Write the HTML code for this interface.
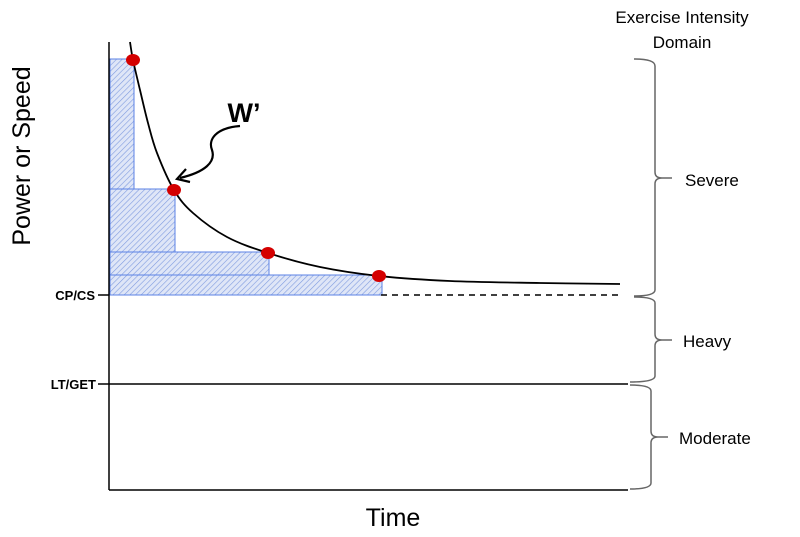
<!DOCTYPE html>
<html><head><meta charset="utf-8"><style>
body{margin:0;background:#fff}
svg{display:block;font-family:"Liberation Sans",Arial,sans-serif}
</style></head><body>
<svg id="chart" width="800" height="537" viewBox="0 0 800 537">
<defs>
<pattern id="hatch" patternUnits="userSpaceOnUse" width="4" height="4" patternTransform="rotate(45)">
<rect width="4" height="4" fill="#dfe6f7"/>
<line x1="0" y1="0" x2="0" y2="4" stroke="#7f9be0" stroke-width="1.2"/>
</pattern>
</defs>
<g id="rects"></g>
<line x1="109" y1="42" x2="109" y2="490" stroke="#000" stroke-width="1.5"/>
<line x1="109" y1="490" x2="628" y2="490" stroke="#000" stroke-width="1.5"/>
<line x1="98" y1="295" x2="109" y2="295" stroke="#000" stroke-width="1.5"/>
<line x1="381" y1="295" x2="620" y2="295" stroke="#000" stroke-width="1.5" stroke-dasharray="6,5"/>
<line x1="98" y1="384" x2="628" y2="384" stroke="#000" stroke-width="1.5"/>
<path id="curve" fill="none" stroke="#000" stroke-width="1.8"/>
<g id="points"></g>
<text x="95" y="300" text-anchor="end" font-size="13" font-weight="bold">CP/CS</text>
<text x="96" y="389" text-anchor="end" font-size="13" font-weight="bold">LT/GET</text>
<text transform="translate(30,156) rotate(-90)" text-anchor="middle" font-size="25">Power or Speed</text>
<text x="393" y="526" text-anchor="middle" font-size="25">Time</text>
<text x="244" y="122" text-anchor="middle" font-size="27" font-weight="bold">W’</text>
<path d="M240,126 C215,128 208,140 212,150 C216,162 205,172 180,178" fill="none" stroke="#000" stroke-width="2.2"/>
<path d="M186,169 L177,179 L190,182" fill="none" stroke="#000" stroke-width="2.2"/>
<text x="682" y="23" text-anchor="middle" font-size="17">Exercise Intensity</text>
<text x="682" y="48" text-anchor="middle" font-size="17">Domain</text>
<g fill="none" stroke="#666" stroke-width="1.5">
<path d="M634,59 Q655,59 655,66 L655,172 Q655,178 662,178 L672,178 M662,178 Q655,178 655,184 L655,290 Q655,296 634,296"/>
<path d="M634,297 Q655,297 655,303 L655,334 Q655,340 662,340 L672,340 M662,340 Q655,340 655,346 L655,376 Q655,382 630,382"/>
<path d="M630,385 Q651,385 651,391 L651,431 Q651,437 658,437 L668,437 M658,437 Q651,437 651,443 L651,483 Q651,489 630,489"/>
</g>
<text x="685" y="186" font-size="17">Severe</text>
<text x="683" y="347" font-size="17">Heavy</text>
<text x="679" y="444" font-size="17">Moderate</text>
</svg>
<script>
// data units: time (0 at y-axis), power (0 at x-axis)
const pointTimes = [24, 65, 159, 270];
const pointPowers = [430, 300, 237, 214];
const curveTimes = [21, 24, 31, 39, 48, 65, 84, 118, 159, 211, 270, 341, 431, 511];
const curvePowers = [448, 430, 400, 367, 337, 300, 277, 253, 237, 223, 214, 209, 207, 206];
const cpPower = 195;
function xs(t){return 109 + t;}
function ys(p){return 490 - p;}
const ns='http://www.w3.org/2000/svg';
const rg=document.getElementById('rects');
for(let i=0;i<pointTimes.length;i++){
  const r=document.createElementNS(ns,'rect');
  const top=ys(pointPowers[i])-1;
  r.setAttribute('x',xs(0)+1);
  r.setAttribute('y',top);
  r.setAttribute('width',xs(pointTimes[i])-xs(0)+(i==3?2:0));
  r.setAttribute('height',ys(cpPower)-top);
  r.setAttribute('fill','url(#hatch)');
  r.setAttribute('stroke','#5b82e6');
  r.setAttribute('stroke-width','1');
  
  
  rg.appendChild(r);
}
const P=curveTimes.map((t,i)=>[xs(t),ys(curvePowers[i])]);
let d='M'+P[0][0]+','+P[0][1];
for(let i=0;i<P.length-1;i++){
  const p0=P[Math.max(0,i-1)],p1=P[i],p2=P[i+1],p3=P[Math.min(P.length-1,i+2)];
  const c1=[p1[0]+(p2[0]-p0[0])/6,p1[1]+(p2[1]-p0[1])/6];
  const c2=[p2[0]-(p3[0]-p1[0])/6,p2[1]-(p3[1]-p1[1])/6];
  d+=` C${c1[0]},${c1[1]} ${c2[0]},${c2[1]} ${p2[0]},${p2[1]}`;
}
document.getElementById('curve').setAttribute('d',d);
const pg=document.getElementById('points');
for(let i=0;i<pointTimes.length;i++){
  const e=document.createElementNS(ns,'ellipse');
  e.setAttribute('cx',xs(pointTimes[i]));
  e.setAttribute('cy',ys(pointPowers[i]));
  e.setAttribute('rx',7);e.setAttribute('ry',6);
  e.setAttribute('fill','#d40000');
  
  
  pg.appendChild(e);
}
</script>
</body></html>
